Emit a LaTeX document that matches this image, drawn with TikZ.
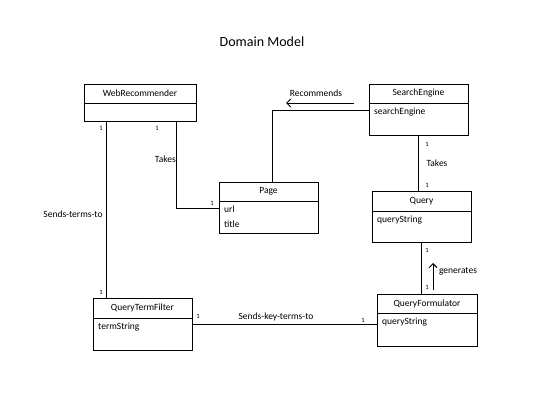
\documentclass[tikz,border=0pt]{standalone}
\usepackage{fontspec}
\setmainfont{Carlito}
\usetikzlibrary{arrows.meta}
\begin{document}
\begin{tikzpicture}[x=1pt,y=-1pt,
  cls/.style={draw, line width=0.8pt, inner sep=0pt, rectangle},
  hdr/.style={font=\fontsize{9.5}{11}\selectfont, inner sep=0pt},
  attr/.style={font=\fontsize{9.5}{11}\selectfont, inner sep=0pt, anchor=west},
  lbl/.style={font=\fontsize{9.5}{11}\selectfont, inner sep=0pt},
  mult/.style={font=\fontsize{6.5}{8}\selectfont, inner sep=0pt},
  conn/.style={line width=0.8pt},
  arr/.style={line width=0.9pt, -{Straight Barb[length=4pt,width=8pt]}}]
\useasboundingbox[fill=white] (0,0) rectangle (560,420);
\node[font=\fontsize{14}{16}\selectfont, inner sep=0pt] (title) at (262,42) {Domain Model};
% classes
\node[cls, minimum width=112pt, minimum height=37pt] (wr) at (140,102.5) {};
\draw[conn] (wr.west |- 0,103) -- (wr.east |- 0,103);
\node[hdr] (wrh) at (140,93.5) {WebRecommender};

\node[cls, minimum width=99pt, minimum height=51pt] (se) at (418.5,109.5) {};
\draw[conn] (se.west |- 0,103) -- (se.east |- 0,103);
\node[hdr] (seh) at (418.5,93.5) {SearchEngine};
\node[attr] (sea) at (374,112) {searchEngine};

\node[cls, minimum width=99pt, minimum height=51pt] (page) at (268.5,207.5) {};
\draw[conn] (page.west |- 0,201) -- (page.east |- 0,201);
\node[hdr] (pageh) at (268.5,191.5) {Page};
\node[attr] (pa1) at (224,209) {url};
\node[attr] (pa2) at (224,224) {title};

\node[cls, minimum width=99pt, minimum height=51pt] (query) at (421.5,216.5) {};
\draw[conn] (query.west |- 0,211) -- (query.east |- 0,211);
\node[hdr] (queryh) at (421.5,201) {Query};
\node[attr] (qa) at (377,220) {queryString};

\node[cls, minimum width=100pt, minimum height=52pt] (qf) at (427,320) {};
\draw[conn] (qf.west |- 0,313) -- (qf.east |- 0,313);
\node[hdr] (qfh) at (427,303.5) {QueryFormulator};
\node[attr] (qfa) at (382,322) {queryString};

\node[cls, minimum width=99pt, minimum height=52pt] (qtf) at (142.5,324) {};
\draw[conn] (qtf.west |- 0,318) -- (qtf.east |- 0,318);
\node[hdr] (qtfh) at (142.5,308) {QueryTermFilter};
\node[attr] (qtfa) at (98,327) {termString};

% connectors
\draw[conn] ([xshift=23pt]wr.south west) -- ([xshift=14pt]qtf.north west);
\draw[conn] ([xshift=93pt]wr.south west) |- ([yshift=-27pt]page.north west);
\draw[conn] ([xshift=54pt]page.north west) |- ([yshift=-27pt]se.north west);
\draw[conn] (se.south) -- (se.south |- query.north);
\draw[conn] (query.south) -- (query.south |- qf.north);
\draw[conn] (qtf.east) -- (qtf.east -| qf.west);
\coordinate (recA) at (354,103);
\coordinate (recB) at (286,103);
\draw[arr] (recA) -- (recB);
\coordinate (genA) at (433,290);
\coordinate (genB) at (433,263);
\draw[arr] (genA) -- (genB);

% labels
\node[mult] (m1) at (101,128) {1};
\node[mult] (m2) at (157,128) {1};
\node[mult] (m3) at (212,203) {1};
\node[mult] (m4) at (101,292) {1};
\node[lbl, anchor=east] (l1) at (176,159) {Takes};
\node[lbl] (l2) at (73,214) {Sends-terms-to};
\node[lbl] (l3) at (316,93) {Recommends};
\node[mult] (m5) at (427,144) {1};
\node[lbl] (l4) at (437,163) {Takes};
\node[mult] (m6) at (427,185) {1};
\node[mult] (m7) at (427,250) {1};
\node[mult] (m8) at (427,287) {1};
\node[lbl] (l5) at (458,271) {generates};
\node[mult] (m9) at (198,316) {1};
\node[lbl] (l6) at (276,317) {Sends-key-terms-to};
\node[mult] (m10) at (363,320) {1};
\end{tikzpicture}
\end{document}
